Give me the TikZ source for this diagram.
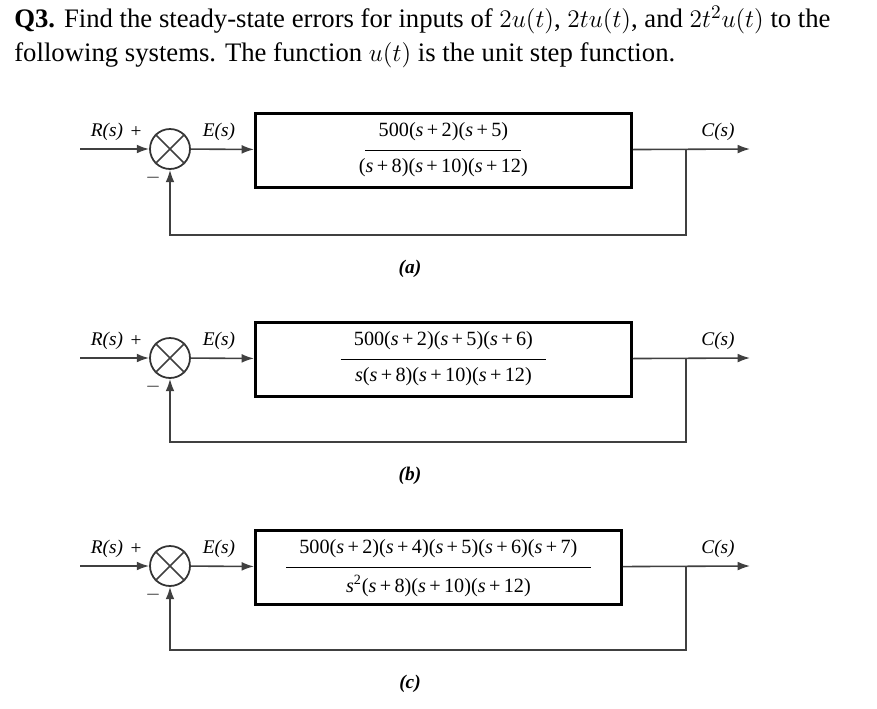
\documentclass[tikz,border=0pt]{standalone}
\usepackage{fontspec}
\setmainfont{Liberation Serif}
\usetikzlibrary{arrows.meta}
\newcommand{\sv}{\textit{s}}
\newcommand{\pl}{\,+\,}
\begin{document}
\begin{tikzpicture}[x=0.02cm,y=-0.02cm,
  line/.style={draw=black!75,line width=0.9pt},
  arr/.style={line,-{Latex[length=7pt,width=5pt]}},
  sumj/.style={circle,draw=black!80,line width=1pt,minimum size=0.8cm,inner sep=0pt},
  blk/.style={draw=black,line width=1.6pt,anchor=north west,inner sep=0pt},
  lab/.style={font=\fontsize{11}{13}\selectfont\itshape},
  frac/.style={font=\fontsize{11.5}{13}\selectfont},
  captext/.style={font=\fontsize{11}{13}\selectfont\bfseries\itshape}]
\useasboundingbox (0,0) rectangle (877,708);
\node[anchor=north west,align=left,font=\fontsize{15.2}{19}\selectfont,inner sep=0pt] (title) at (14,6)
 {\textbf{Q3.} Find the steady-state errors for inputs of $2u(t)$, $2tu(t)$, and $2t^2u(t)$ to the\\ following systems. The function $u(t)$ is the unit step function.};
\foreach \n/\y/\fb/\bx/\num/\den/\cp in {
 a/149/235/630/{500(\sv\pl2)(\sv\pl5)}/{(\sv\pl8)(\sv\pl10)(\sv\pl12)}/{(a)},
 b/358/442/630/{500(\sv\pl2)(\sv\pl5)(\sv\pl6)}/{\sv(\sv\pl8)(\sv\pl10)(\sv\pl12)}/{(b)},
 c/566/650/620/{500(\sv\pl2)(\sv\pl4)(\sv\pl5)(\sv\pl6)(\sv\pl7)}/{\sv\textsuperscript{2}(\sv\pl8)(\sv\pl10)(\sv\pl12)}/{(c)}}{
  \coordinate (in\n) at (80,\y);
  \node[sumj] (s\n) at (170,\y) {};
  \draw[line] (s\n.45) -- (s\n.225) (s\n.135) -- (s\n.315);
  \node[blk,minimum width={(\bx-254)*0.02cm},minimum height=1.48cm] (g\n) at (254,\y-37) {};
  \node[frac,anchor=south] (num\n) at ([yshift=2pt]g\n.center) {\num};
  \node[frac,anchor=north] (den\n) at ([yshift=-1pt]g\n.center) {\den};
  \path (num\n.south west) -- (num\n.south east) coordinate[pos=0] (nw\n) coordinate[pos=1] (ne\n);
  \draw[line,black] ([xshift=-4pt]nw\n |- g\n.center) -- ([xshift=4pt]ne\n |- g\n.center);
  \coordinate (out\n) at (750,\y);
  \coordinate (tap\n) at (686,\y);
  \coordinate (fb\n) at (686,\fb);
  \coordinate (fbl\n) at (170,\fb);
  \draw[arr] (in\n) -- (s\n);
  \draw[arr] (s\n) -- (g\n);
  \draw[arr] (g\n) -- (out\n);
  \draw[arr] (tap\n) -- (fb\n) -- (fbl\n) -- (s\n);
  \node[lab] (r\n) at (107,\y-17) {R(s)};
  \node[font=\fontsize{11}{13}\selectfont] (p\n) at (136,\y-17) {+};
  \node[lab] (e\n) at (219,\y-17) {E(s)};
  \node[lab] (c\n) at (718,\y-17) {C(s)};
  \node[font=\fontsize{11}{13}\selectfont] (m\n) at (153,\y+29) {$-$};
  \node[captext] (cap\n) at (410,\fb+34) {\cp};
}
\end{tikzpicture}
\end{document}
